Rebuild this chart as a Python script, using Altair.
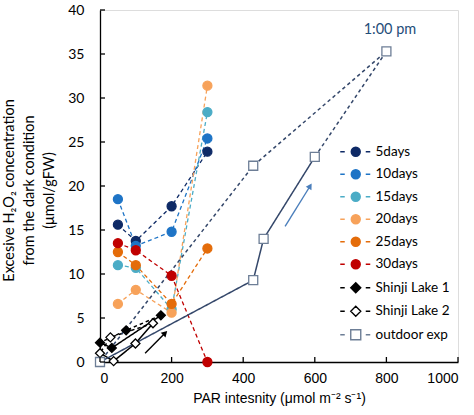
import math
import altair as alt
import pandas as pd

# ---------------- data ----------------
# laboratory incubations: PAR steps and excess H2O2 per incubation length
lab_par = [50, 100, 200, 300]
lab_series = ["5days", "10days", "15days", "20days", "25days", "30days"]
h2o2_5days = [15.6, 13.75, 17.7, 23.9]
h2o2_10days = [18.5, 13.2, 14.8, 25.4]
h2o2_15days = [11.0, 10.7, 6.0, 28.4]
h2o2_20days = [6.6, 8.2, 5.6, 31.4]
h2o2_25days = [12.5, 11.0, 6.6, 12.9]
h2o2_30days = [13.5, 12.7, 9.8, 0.0]

# field measurements (morning = solid path, afternoon = dashed path)
shinji1_par = [0, 33, 73, 170]
shinji1_h2o2 = [2.2, 1.6, 3.6, 5.3]
shinji1_solid = [0, 1, 3]
shinji1_dashed = [3, 2, 0]

shinji2_par = [0, 38, 99, 148, 29]
shinji2_h2o2 = [1.0, 0.1, 2.1, 4.4, 2.8]
shinji2_solid = [0, 1, 2, 3]
shinji2_dashed = [3, 4, 0]

outdoor_par = [0, 428, 457, 600, 800, 428]
outdoor_h2o2 = [0.0, 9.3, 14.0, 23.3, 35.3, 22.3]
outdoor_solid = [0, 1, 2, 3]
outdoor_dashed = [3, 4, 5, 0]

# direction arrows (tail -> head) in data units
arrow_kind = ["field", "outdoor"]
arrow_par0 = [126, 517]
arrow_h2o20 = [1.0, 15.4]
arrow_par1 = [182, 587]
arrow_h2o21 = [3.3, 20.0]

noon_label = "1:00 pm"
noon_par = 810
noon_h2o2 = 37.7

x_ticks = [0, 200, 400, 600, 800, 1000]
y_ticks = [0, 5, 10, 15, 20, 25, 30, 35, 40]

# ---------------- styling ----------------
W, H = 358, 352
X_MAX, Y_MAX = 1000, 40

series_order = lab_series + ["Shinji Lake 1", "Shinji Lake 2", "outdoor exp"]
lab_colors = ["#0E2A66", "#1E74C6", "#4BACC6", "#F7A25A", "#E46C0A", "#C00000"]
line_colors = lab_colors + ["black", "black", "#34476A"]
fill_colors = lab_colors + ["black", "white", "white"]
stroke_colors = lab_colors + ["black", "black", "#6D7E96"]
point_shapes = ["circle"] * 6 + ["diamond", "diamond", "square"]
point_sizes = [81] * 6 + [64, 72, 100]

# legend glyphs: "- marker -" drawn as one custom path (1 unit = 5 px at size 100)
dash = "M-3.1,0L-2.2,0M2.0,0L2.9,0"
circ = "M-0.9,0A0.9,0.9,0,1,1,0.9,0A0.9,0.9,0,1,1,-0.9,0Z"
diam = "M-1,0L0,-1L1,0L0,1Z"
sq = "M-1,-1L1,-1L1,1L-1,1Z"
legend_shapes = [dash + circ] * 6 + [dash + diam, dash + diam, dash + sq]

# ---------------- tables ----------------
lab_values = [h2o2_5days, h2o2_10days, h2o2_15days, h2o2_20days, h2o2_25days, h2o2_30days]
point_rows, line_rows = [], []
for name, vals in zip(lab_series, lab_values):
    for i, (p, v) in enumerate(zip(lab_par, vals)):
        point_rows.append({"series": name, "par": p, "h2o2": v})
        line_rows.append({"series": name, "path": name, "seq": i, "style": "dashed", "par": p, "h2o2": v})

field = [
    ("Shinji Lake 1", shinji1_par, shinji1_h2o2, shinji1_solid, shinji1_dashed),
    ("Shinji Lake 2", shinji2_par, shinji2_h2o2, shinji2_solid, shinji2_dashed),
    ("outdoor exp", outdoor_par, outdoor_h2o2, outdoor_solid, outdoor_dashed),
]
for name, px, py, solid, dashed in field:
    for p, v in zip(px, py):
        point_rows.append({"series": name, "par": p, "h2o2": v})
    for style, idx in (("solid", solid), ("dashed", dashed)):
        for i, k in enumerate(idx):
            line_rows.append({"series": name, "path": name + style, "seq": i,
                              "style": style, "par": px[k], "h2o2": py[k]})

points = pd.DataFrame(point_rows)
lines = pd.DataFrame(line_rows)

arrows = pd.DataFrame({"kind": arrow_kind, "x0": arrow_par0, "y0": arrow_h2o20,
                       "x1": arrow_par1, "y1": arrow_h2o21})
# head rotation follows the on-screen direction of each arrow
arrows["angle"] = [
    math.degrees(math.atan2((b - a) * W / X_MAX, (d - c) * H / Y_MAX))
    for a, b, c, d in zip(arrows.x0, arrows.x1, arrows.y0, arrows.y1)
]

# ---------------- encodings ----------------
def x_enc(field):
    return alt.X(f"{field}:Q", scale=alt.Scale(domain=[0, X_MAX], nice=False, zero=False),
                 axis=alt.Axis(values=x_ticks, format="d", title="PAR intesnity (μmol m⁻² s⁻¹)",
                               grid=False, ticks=False, domainColor="black", domainWidth=1.3,
                               labelFont="Liberation Sans", labelFontSize=14, labelColor="black",
                               labelPadding=9, titleFont="Liberation Sans", titleFontSize=14,
                               titleFontWeight="normal", titleColor="black", titlePadding=6))

def y_enc(field):
    return alt.Y(f"{field}:Q", scale=alt.Scale(domain=[0, Y_MAX], nice=False),
                 axis=alt.Axis(values=y_ticks,
                               title=["Excesive H₂O₂ concentration", "from the dark condition", "(μmol/gFW)"],
                               grid=False, ticks=False, domainColor="black", domainWidth=1.3,
                               labelFont="Lato", labelFontSize=14, labelColor="black", labelPadding=16,
                               titleFont="Lato", titleFontSize=14.5, titleFontWeight="normal",
                               titleColor="black", titleAngle=-90, titleX=-91, titleY=180,
                               titleAlign="center", titleBaseline="middle", titleLineHeight=20))

def series_scale(rng):
    return alt.Scale(domain=series_order, range=rng)

lab_filter = alt.FieldOneOfPredicate(field="series", oneOf=lab_series)

lab_lines = alt.Chart(lines).transform_filter(lab_filter).mark_line(
    strokeWidth=1.3, strokeDash=[4, 3]
).encode(
    x=x_enc("par"), y=y_enc("h2o2"),
    color=alt.Color("series:N", scale=series_scale(line_colors), legend=None),
    detail="path:N", order="seq:Q",
)

field_lines = alt.Chart(lines).transform_filter(~lab_filter).mark_line(strokeWidth=1.5).encode(
    x=x_enc("par"), y=y_enc("h2o2"),
    color=alt.Color("series:N", scale=series_scale(line_colors), legend=None),
    strokeDash=alt.StrokeDash("style:N", scale=alt.Scale(domain=["solid", "dashed"],
                                                         range=[[1, 0], [3.5, 3]]), legend=None),
    detail="path:N", order="seq:Q",
)

arrow_colors = alt.Scale(domain=["field", "outdoor"], range=["black", "#4A7EBB"])
arrow_shafts = alt.Chart(arrows).mark_rule(strokeWidth=1.4).encode(
    x=x_enc("x0"), y=y_enc("y0"), x2="x1:Q", y2="y1:Q",
    color=alt.Color("kind:N", scale=arrow_colors, legend=None),
)
arrow_heads = alt.Chart(arrows).mark_point(shape="triangle-up", filled=True, size=45, opacity=1).encode(
    x=x_enc("x1"), y=y_enc("y1"),
    angle=alt.Angle("angle:Q", scale=None),
    color=alt.Color("kind:N", scale=arrow_colors, legend=None),
)

markers = alt.Chart(points).mark_point(filled=True, strokeWidth=1.3, opacity=1).encode(
    x=x_enc("par"), y=y_enc("h2o2"),
    shape=alt.Shape("series:N", scale=series_scale(point_shapes), legend=None),
    fill=alt.Fill("series:N", scale=series_scale(fill_colors), legend=None),
    stroke=alt.Stroke("series:N", scale=series_scale(stroke_colors), legend=None),
    size=alt.Size("series:N", scale=series_scale(point_sizes), legend=None),
)

noon = alt.Chart(pd.DataFrame({"par": [noon_par], "h2o2": [noon_h2o2], "t": [noon_label]})).mark_text(
    font="Lato", fontSize=14.5, color="#1F4E79", baseline="middle", align="center"
).encode(x=x_enc("par"), y=y_enc("h2o2"), text="t:N")

# inward tick marks on both axes
xtick_marks = alt.Chart(pd.DataFrame({"v": x_ticks})).mark_rule(color="black", strokeWidth=1.3).encode(
    x=x_enc("v"), y=alt.value(H), y2=alt.value(H - 5))
ytick_marks = alt.Chart(pd.DataFrame({"v": y_ticks})).mark_rule(color="black", strokeWidth=1.3).encode(
    y=y_enc("v"), x=alt.value(0), x2=alt.value(5))

# legend carrier: no marks of its own, only the merged fill/stroke/shape legend
legend_layer = alt.Chart(points).transform_filter("false").mark_point(
    filled=True, size=100, strokeWidth=1.4, opacity=1
).encode(
    x=x_enc("par"), y=y_enc("h2o2"),
    shape=alt.Shape("series:N", scale=series_scale(legend_shapes)),
    fill=alt.Fill("series:N", scale=series_scale(fill_colors)),
    stroke=alt.Stroke("series:N", scale=series_scale(stroke_colors),
                      legend=alt.Legend(orient="none", legendX=249, legendY=135, title=None,
                                        symbolSize=100, symbolStrokeWidth=1.4, labelFont="Lato",
                                        labelFontSize=13.5, labelColor="black", labelOffset=13,
                                        rowPadding=6.5, padding=0)),
)

chart = alt.layer(
    lab_lines, field_lines, arrow_shafts, arrow_heads, markers, noon,
    xtick_marks, ytick_marks, legend_layer,
).resolve_scale(
    color="independent", fill="independent", stroke="independent",
    shape="independent", size="independent", strokeDash="independent",
).properties(
    width=W, height=H,
    autosize=alt.AutoSizeParams(type="none"),
    padding={"left": 100, "top": 10, "right": 16, "bottom": 53},
).configure_view(stroke=None).configure(background="white")

chart.save("out.html", embed_options={"renderer": "svg", "actions": False})
